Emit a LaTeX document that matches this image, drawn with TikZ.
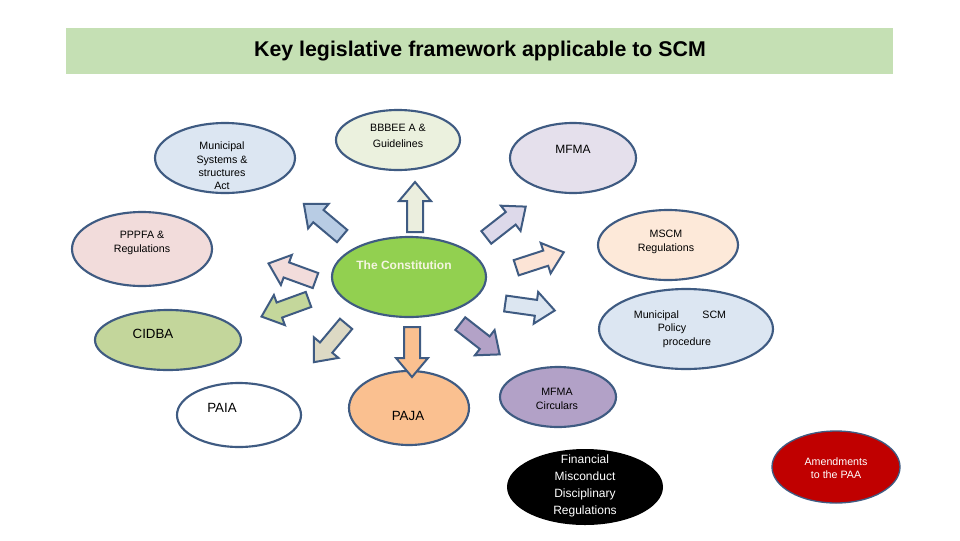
\documentclass[tikz,border=0pt]{standalone}
\usepackage{fontspec}
\setmainfont{Liberation Sans}
\usetikzlibrary{shapes.geometric}
\definecolor{edge}{HTML}{3F5B82}
\tikzset{
 ell/.style={ellipse,draw=edge,line width=1.6pt,inner sep=0pt},
 lbl/.style={font=\fontsize{8}{10}\selectfont,align=center,inner sep=0pt},
 big/.style={font=\fontsize{10}{12}\selectfont,inner sep=0pt},
 arr/.style={draw=edge,line width=1.5pt,line join=miter},
 sz/.style 2 args={minimum width=#1*0.75pt,minimum height=#2*0.75pt}
}
\newcommand\blockarrow[4]{% x y angle color
 \filldraw[arr,fill=#4,shift={(#1,#2)},rotate=#3]
 (-25,-8)--(6,-8)--(6,-16)--(25,0)--(6,16)--(6,8)--(-25,8)--cycle;}
\begin{document}
\begin{tikzpicture}[x=0.75pt,y=-0.75pt]
\useasboundingbox[fill=white] (0,0) rectangle (960,540);
\fill[fill={rgb,255:red,197;green,224;blue,180}] (66,28) rectangle (893,74);
\node[font=\bfseries\fontsize{16}{18}\selectfont] (title) at (480,51) {Key legislative framework applicable to SCM};

\node[ell,fill={rgb,255:red,220;green,230;blue,242},sz={140}{70}] (msa) at (225,158) {};
\node[ell,fill={rgb,255:red,235;green,241;blue,222},sz={124}{60}] (bbb) at (398,140) {};
\node[ell,fill={rgb,255:red,229;green,224;blue,236},sz={126}{70}] (mfma) at (573,158) {};
\node[ell,fill={rgb,255:red,242;green,220;blue,219},sz={140}{74}] (pppfa) at (142,249) {};
\node[ell,fill={rgb,255:red,253;green,233;blue,217},sz={140}{70}] (mscm) at (668,245) {};
\node[ell,fill={rgb,255:red,146;green,208;blue,80},sz={154}{80}] (con) at (409,277) {};
\node[ell,fill={rgb,255:red,220;green,230;blue,242},sz={174}{80}] (scm) at (686,329) {};
\node[ell,fill={rgb,255:red,195;green,214;blue,155},sz={146}{60}] (cidba) at (168,340) {};
\node[ell,fill=white,sz={124}{64}] (paia) at (239,415) {};
\node[ell,fill={rgb,255:red,250;green,192;blue,144},sz={120}{74}] (paja) at (409,408) {};
\node[ell,fill={rgb,255:red,178;green,161;blue,199},sz={116}{60}] (circ) at (558,397) {};
\node[ellipse,fill=black,sz={156}{76},inner sep=0pt] (fin) at (585,487) {};
\node[ellipse,draw=edge,line width=1pt,fill={rgb,255:red,192;green,0;blue,0},sz={128}{72},inner sep=0pt] (amd) at (836,467) {};

\node[lbl] (tmsa) at (222,166) {Municipal\\Systems \&\\ structures\\Act};
\node[lbl,align=center] (tbbb) at (398,136) {BBBEE A \&\\[2pt]Guidelines};
\node[lbl,font=\fontsize{9}{11}\selectfont] (tmfma) at (573,149) {MFMA};
\node[lbl] (tpppfa) at (142,243) {PPPFA \&\\Regulations};
\node[lbl] (tmscm) at (666,242) {MSCM\\Regulations};
\node[lbl,font=\bfseries\fontsize{9}{11}\selectfont,text={rgb,255:red,245;green,245;blue,225}] (tcon) at (404,265) {The Constitution};
\node[lbl] (tscm) at (680,329) {Municipal\hspace{2.2em}SCM\\Policy\hspace{1.5em}\mbox{}\\\hspace{1.3em}procedure};
\node[big] (tcidba) at (153,334) {CIDBA};
\node[big] (tpaia) at (222,408) {PAIA};
\node[big] (tpaja) at (408,416) {PAJA};
\node[lbl] (tcirc) at (557,399) {MFMA\\Circulars};
\node[lbl,text=white,font=\fontsize{9}{12.6}\selectfont] (tfin) at (585,486) {Financial\\Misconduct\\Disciplinary\\Regulations};
\node[lbl,text=white] (tamd) at (836,468) {Amendments\\to the PAA};

\blockarrow{415}{207}{90}{{rgb,255:red,235;green,238;blue,222}}
\blockarrow{323}{220}{140}{{rgb,255:red,184;green,204;blue,228}}
\blockarrow{506}{222}{38}{{rgb,255:red,221;green,217;blue,234}}
\blockarrow{292}{272}{160}{{rgb,255:red,242;green,220;blue,219}}
\blockarrow{540}{260}{18}{{rgb,255:red,252;green,228;blue,214}}
\blockarrow{285}{308}{200}{{rgb,255:red,196;green,215;blue,155}}
\blockarrow{530}{307}{-8}{{rgb,255:red,220;green,230;blue,241}}
\blockarrow{330}{343}{230}{{rgb,255:red,221;green,217;blue,196}}
\blockarrow{412}{352}{-90}{{rgb,255:red,250;green,192;blue,144}}
\blockarrow{480}{339}{-38}{{rgb,255:red,179;green,162;blue,199}}
\end{tikzpicture}
\end{document}
